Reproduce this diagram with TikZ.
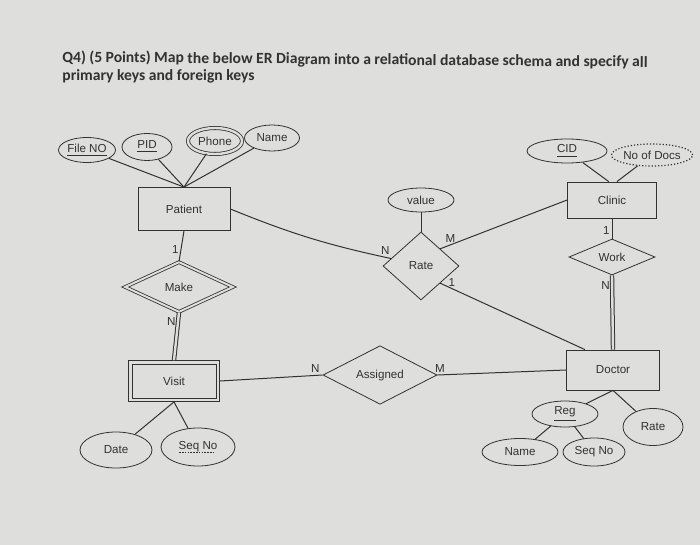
\documentclass[tikz,border=0pt]{standalone}
\usepackage{fontspec}
\setmainfont{Liberation Sans}
\newfontfamily\titlefont{Carlito}
\usetikzlibrary{shapes.geometric}
\definecolor{paper}{RGB}{222,222,220}
\definecolor{ink}{RGB}{50,50,50}
\newcommand\erfont{\fontsize{5.8}{6.8}\selectfont}
\newcommand\dashul[1]{\setbox0\hbox{#1}\vtop{\copy0\nointerlineskip\kern0.5pt\hbox to\wd0{\leaders\hbox to 1.4pt{\hss\vrule height 0.35pt width 0.8pt\hss}\hfill}}}

\begin{document}
\begin{tikzpicture}[x=0.5pt,y=-0.5pt,color=ink,
  title/.style={font=\titlefont\bfseries\fontsize{7.8}{9}\selectfont,inner sep=0pt},
  entity/.style={draw,rectangle,font=\erfont},
  rel/.style={draw,diamond,inner sep=0pt,font=\erfont},
  attr/.style={draw,ellipse,inner sep=0pt,font=\erfont},
  link/.style={draw,line width=0.5pt},
  total/.style={link,double=paper,double distance=1.2pt},
  card/.style={font=\erfont,inner sep=1pt}]
\fill[paper] (0,0) rectangle (700,545);
\useasboundingbox (0,0) rectangle (700,545);

% question
\node[title,anchor=base west,rotate=-0.5] (q1) at (62,62) {Q4) (5 Points) Map the below ER Diagram into a relational database schema and specify all};
\node[title,anchor=base west] (q2) at (62,81) {primary keys and foreign keys};

% patient side
\node[entity,minimum width=46pt,minimum height=21.5pt] (patient) at (184,209) {Patient};
\node[attr,minimum width=28.5pt,minimum height=12.5pt] (fileno) at (87,150) {\underline{File NO}};
\node[attr,minimum width=25pt,minimum height=13.5pt] (pid) at (147,147) {\underline{PID}};
\node[attr,double=paper,double distance=1.2pt,minimum width=27pt,minimum height=13pt] (phone) at (215,141) {Phone};
\node[attr,minimum width=27.5pt,minimum height=13pt] (name) at (272,138) {Name};
\node[rel,double=paper,double distance=1pt,minimum width=54pt,minimum height=25pt] (make) at (179,287) {Make};
\node[entity,minimum width=45.5pt,minimum height=20.5pt] (visit) at (174,381) {Visit};
\draw ([shift={(2pt,-2pt)}]visit.north west) rectangle ([shift={(-2pt,2pt)}]visit.south east);
\node[attr,minimum width=36pt,minimum height=18pt] (date) at (116,450) {Date};
\node[attr,minimum width=37pt,minimum height=19pt] (seqno) at (198,447) {\dashul{Seq No}};

% middle
\node[rel,minimum width=38pt,minimum height=34pt] (rate) at (421,266) {Rate};
\node[attr,minimum width=33pt,minimum height=12pt] (value) at (421,200) {value};
\node[rel,minimum width=57pt,minimum height=28.5pt] (assigned) at (380,375) {Assigned};

% clinic / doctor side
\node[entity,minimum width=44.5pt,minimum height=18pt] (clinic) at (612,200) {Clinic};
\node[attr,minimum width=40pt,minimum height=12pt] (cid) at (567,151) {\underline{CID}};
\node[attr,densely dotted,line width=0.6pt,minimum width=35pt,minimum height=11pt] (docs) at (652,155) {No of Docs};
\node[rel,minimum width=43pt,minimum height=18pt] (work) at (612,257) {Work};
\node[entity,minimum width=46.5pt,minimum height=20pt] (doctor) at (613,370) {Doctor};
\node[attr,minimum width=33pt,minimum height=13pt] (reg) at (565,414) {\underline{Reg}};
\node[attr,minimum width=30pt,minimum height=18.5pt] (drate) at (653,427) {Rate};
\node[attr,minimum width=38pt,minimum height=13.5pt] (dname) at (520,452) {Name};
\node[attr,minimum width=31pt,minimum height=14pt] (dseq) at (594,452) {Seq No};

% attributes
\draw[link] (fileno) -- (patient.north);
\draw[link] (pid) -- (patient.north);
\draw[link] (phone) -- (patient.north);
\draw[link] (name) -- (patient.north);
\draw[link] (visit.south) -- (date);
\draw[link] (visit.south) -- (seqno);
\draw[link] (rate.north) -- (value.south);
\draw[link] (cid) -- (clinic.100);
\draw[link] (docs) -- (clinic.75);
\draw[link] (doctor.south) -- (reg);
\draw[link] (doctor.south) -- (drate);
\draw[link] (reg) -- (dname);
\draw[link] (reg) -- (dseq);

% relationships
\draw[link] (patient.south) -- node[card,pos=0.6,left] (c1) {1} (make.north);
\draw[total] (make.south) -- node[card,pos=0.2,left] (c2) {N} (visit.north);
\draw[link] (patient.east) to[bend right=5] node[card,pos=0.97,above] (c3) {N} (rate.166);
\draw[link] (rate.north east) -- node[card,pos=0.08,above] (c4) {M} (clinic.west);
\draw[link] (rate.south east) -- node[card,pos=0.08,above] (c5) {1} (doctor.144);
\draw[link] (clinic.south) -- node[card,pos=0.6,left] (c6) {1} (work.north);
\draw[total] (work.south) -- node[card,pos=0.13,left] (c7) {N} (doctor.north);
\draw[link] (visit.east) -- node[card,pos=0.93,above] (c8) {N} (assigned.west);
\draw[link] (assigned.east) -- node[card,pos=0.02,above] (c9) {M} (doctor.west);
\end{tikzpicture}
\end{document}
